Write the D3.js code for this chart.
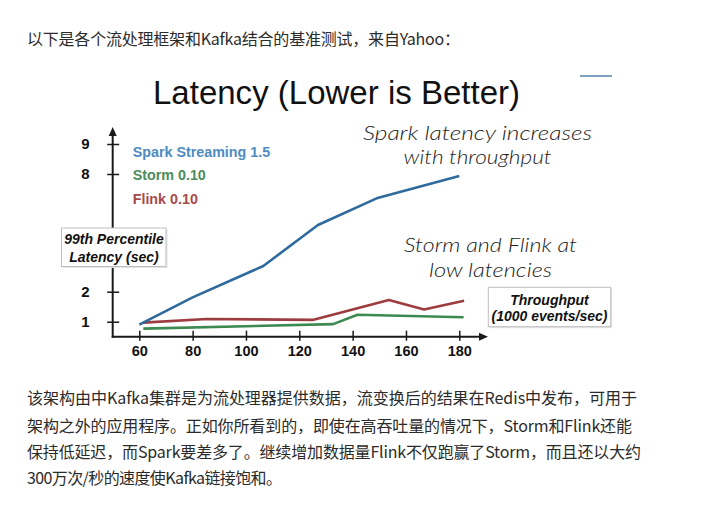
<!DOCTYPE html>
<html><head><meta charset="utf-8">
<script src="https://cdn.jsdelivr.net/npm/d3@7"></script>
<style>
html,body{margin:0;padding:0;background:#fff;}
svg{display:block;}
</style></head>
<body>
<svg id="c" width="709" height="507"></svg>
<script>
// ---- data ----
const xTicks = [60, 80, 100, 120, 140, 160, 180];
const yTicks = [1, 2, 8, 9];
const seriesNames = ["Spark Streaming 1.5", "Storm 0.10", "Flink 0.10"];
const sparkX = [60, 80, 106.5, 127, 149, 180];
const sparkY = [0.9, 1.81, 3.31, 5.40, 6.76, 7.90];
const stormX = [61.5, 132.7, 141.8, 181.6];
const stormY = [0.77, 0.92, 1.23, 1.15];
const flinkX = [61.5, 85.3, 125, 153.6, 166.8, 181.8];
const flinkY = [0.97, 1.09, 1.06, 1.72, 1.41, 1.70];
const titleText = "Latency (Lower is Better)";
const introText = "以下是各个流处理框架和Kafka结合的基准测试，来自Yahoo：";
const paraLines = [
  "该架构由中Kafka集群是为流处理器提供数据，流变换后的结果在Redis中发布，可用于",
  "架构之外的应用程序。正如你所看到的，即使在高吞吐量的情况下，Storm和Flink还能",
  "保持低延迟，而Spark要差多了。继续增加数据量Flink不仅跑赢了Storm，而且还以大约",
  "300万次/秒的速度使Kafka链接饱和。"
];
const yLabelLines = ["99th Percentile", "Latency (sec)"];
const xLabelLines = ["Throughput", "(1000 events/sec)"];
const note1 = ["Spark latency increases", "with throughput"];
const note2 = ["Storm and Flink at", "low latencies"];

// ---- layout ----
const svg = d3.select("#c");
const cjk = "'Noto Sans CJK SC','Noto Sans',sans-serif";
const sans = "'Liberation Sans',Arial,Helvetica,sans-serif";

// paragraph text
const paraW = [610, 605, 614, 255];
svg.append("text").attr("x", 27).attr("y", 44.5)
  .attr("font-family", cjk).attr("font-size", 16).attr("fill", "#2b2b2b")
  .attr("textLength", 433).attr("lengthAdjust", "spacing")
  .text(introText);
const paraY = [404, 431.5, 457.5, 484];
svg.selectAll("text.para").data(paraLines).join("text").attr("class", "para")
  .attr("x", 27).attr("y", (d, i) => paraY[i])
  .attr("font-family", cjk).attr("font-size", 16).attr("fill", "#2b2b2b")
  .attr("textLength", (d, i) => paraW[i]).attr("lengthAdjust", "spacing")
  .text(d => d);

// small stray line (top right)
svg.append("line").attr("x1", 580).attr("x2", 612).attr("y1", 76).attr("y2", 76)
  .attr("stroke", "#5a8aac").attr("stroke-width", 1.6);

// title
svg.append("text").attr("x", 153).attr("y", 104)
  .attr("font-family", sans).attr("font-size", 33).attr("fill", "#111")
  .attr("textLength", 367).attr("lengthAdjust", "spacingAndGlyphs")
  .text(titleText);

// scales
const x = d3.scaleLinear().domain([60, 180]).range([139.3, 459.3]);
const y = d3.scaleLinear().domain([0.5, 2, 8, 9.5]).range([336.7, 291.7, 174, 129]);

const axisColor = "#1a1a1a";
// x axis
const gx = svg.append("g").attr("transform", `translate(0,${y(0.5)})`)
  .call(d3.axisBottom(x).tickValues(xTicks).tickSizeInner(4).tickSizeOuter(0).tickPadding(8));
gx.select(".domain").remove();
gx.selectAll(".tick line").attr("y1", -6).attr("y2", 4).attr("stroke", axisColor).attr("stroke-width", 1.5);
gx.selectAll(".tick text").attr("font-family", sans).attr("font-size", 14.5)
  .attr("font-weight", "bold").attr("fill", "#111").attr("dy", "0.52em");

// y axis
const gy = svg.append("g").attr("transform", `translate(112.7,0)`)
  .call(d3.axisLeft(y).tickValues(yTicks).tickSizeInner(5).tickSizeOuter(0).tickPadding(18).tickFormat(d3.format("d")));
gy.select(".domain").remove();
gy.selectAll(".tick line").attr("x1", 6.5).attr("x2", -5.5).attr("stroke", axisColor).attr("stroke-width", 1.5);
gy.selectAll(".tick text").attr("font-family", sans).attr("font-size", 15)
  .attr("font-weight", "bold").attr("fill", "#111");

// axis lines with arrows
svg.append("line").attr("x1", 112.7).attr("x2", 112.7).attr("y1", 133).attr("y2", y(0.5) + 1)
  .attr("stroke", axisColor).attr("stroke-width", 2);
svg.append("path").attr("d", "M112.7,127 L108.7,136 L116.7,136 Z").attr("fill", axisColor);
svg.append("line").attr("x1", 111.7).attr("x2", 482).attr("y1", y(0.5)).attr("y2", y(0.5))
  .attr("stroke", axisColor).attr("stroke-width", 2);
svg.append("path").attr("d", `M488,${y(0.5)} L479,${y(0.5) - 4} L479,${y(0.5) + 4} Z`).attr("fill", axisColor);

// lines
const line = d3.line().x(d => x(d[0])).y(d => y(d[1]));
const series = [
  {xs: stormX, ys: stormY, color: "#3d8a50"},
  {xs: flinkX, ys: flinkY, color: "#9d3c3e"},
  {xs: sparkX, ys: sparkY, color: "#2f6a9c"}
];
svg.selectAll("path.series").data(series).join("path").attr("class", "series")
  .attr("d", s => line(s.xs.map((v, i) => [v, s.ys[i]])))
  .attr("fill", "none").attr("stroke", s => s.color).attr("stroke-width", 2.6)
  .attr("stroke-linejoin", "round");

// legend
const legColors = ["#4e8bc0", "#4a8c5c", "#a74a4a"];
const legY = [156.5, 180, 204];
svg.selectAll("text.leg").data(seriesNames).join("text").attr("class", "leg")
  .attr("x", 132.7).attr("y", (d, i) => legY[i])
  .attr("font-family", sans).attr("font-size", 14.3).attr("font-weight", "bold")
  .attr("fill", (d, i) => legColors[i]).text(d => d);

// boxes
function box(x0, y0, w, h, lines, cx, ys) {
  svg.append("rect").attr("x", x0 + 1.5).attr("y", y0 + 1.5).attr("width", w).attr("height", h)
    .attr("fill", "#e4e4e4");
  svg.append("rect").attr("x", x0).attr("y", y0).attr("width", w).attr("height", h)
    .attr("fill", "#fff").attr("stroke", "#bdbdbd").attr("stroke-width", 1);
  lines.forEach((t, i) => {
    svg.append("text").attr("x", cx).attr("y", ys[i]).attr("text-anchor", "middle")
      .attr("font-family", sans).attr("font-size", 14).attr("font-weight", "bold")
      .attr("font-style", "italic").attr("fill", "#111").text(t);
  });
}
box(61.5, 228, 104.5, 38.5, yLabelLines, 114, [243.5, 261.5]);
box(488.3, 287.3, 122.4, 39.4, xLabelLines, 549.5, [304.5, 320.5]);

// annotations
function note(lines, cx, ys, ws) {
  lines.forEach((t, i) => {
    svg.append("text").attr("x", cx).attr("y", ys[i]).attr("text-anchor", "middle")
      .attr("font-family", "Lato,'Liberation Sans',Arial,sans-serif")
      .attr("font-weight", 300).attr("font-size", 19.5).attr("font-style", "italic")
      .attr("fill", "#222").attr("textLength", ws[i]).attr("lengthAdjust", "spacingAndGlyphs")
      .text(t);
  });
}
note(note1, 477.5, [140, 164], [229, 148]);
note(note2, 490.5, [251.5, 277], [173, 123]);
</script>
</body></html>
